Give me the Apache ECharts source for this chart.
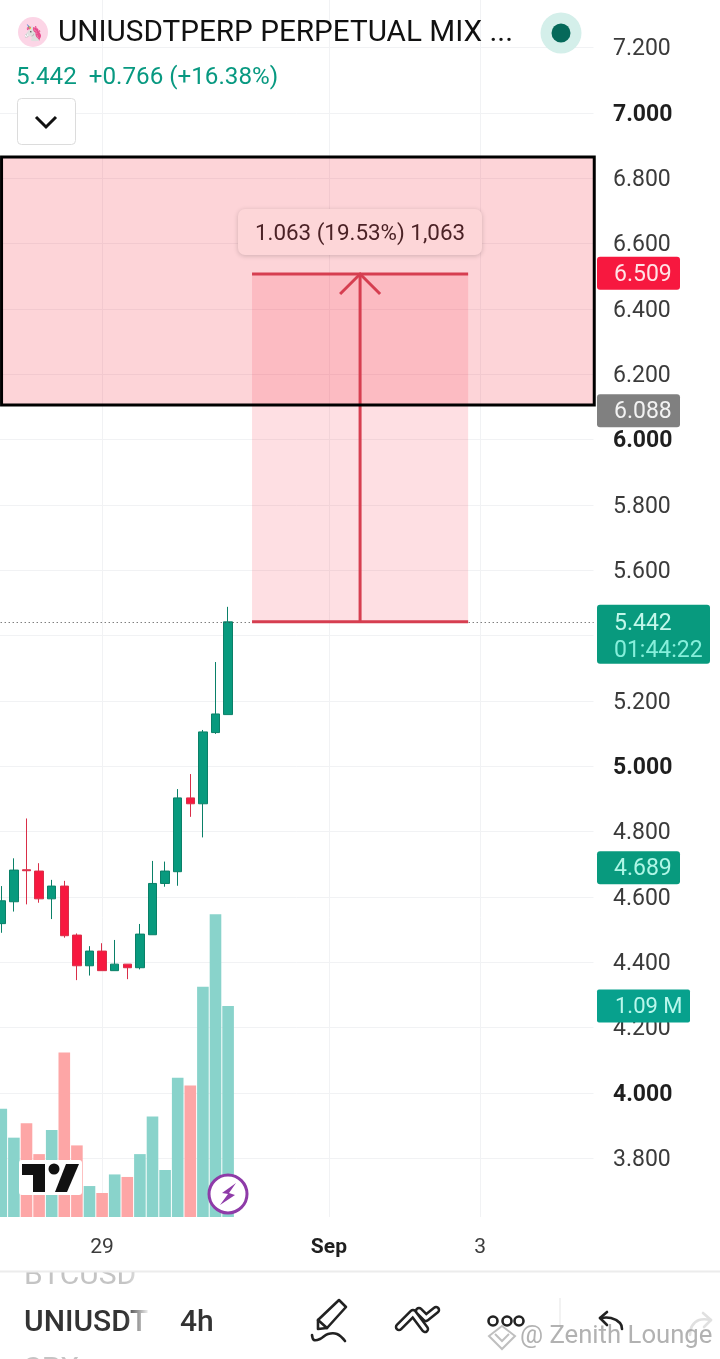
<!DOCTYPE html>
<html><head><meta charset="utf-8">
<style>html,body{margin:0;padding:0;background:#fff}#c{width:720px;height:1359px}</style>
<script src="https://cdn.jsdelivr.net/npm/echarts@6/dist/echarts.min.js"></script>
</head><body><div id="c"></div>
<script>
// ---------- data ----------
const xTicks = {9:'29', 27:'Sep', 39:'3'};
const slotCount = 49;
const firstBarSlot = 1;
const opens  = [4.518,4.585,4.683,4.679,4.594,4.633,4.483,4.389,4.434,4.374,4.394,4.383,4.484,4.641,4.677,4.903,4.885,5.103,5.158];
const closes = [4.588,4.682,4.680,4.594,4.633,4.481,4.389,4.434,4.374,4.394,4.383,4.486,4.641,4.679,4.903,4.885,5.105,5.160,5.442];
const highs  = [4.633,4.718,4.840,4.703,4.652,4.649,4.488,4.449,4.458,4.468,4.394,4.517,4.710,4.708,4.930,4.976,5.111,5.319,5.488];
const lows   = [4.490,4.555,4.577,4.582,4.532,4.475,4.345,4.359,4.374,4.374,4.348,4.378,4.484,4.631,4.634,4.845,4.782,5.099,5.158];
const volumes= [0.56,0.41,0.485,0.325,0.45,0.85,0.37,0.16,0.124,0.22,0.207,0.325,0.52,0.243,0.72,0.68,1.19,1.565,1.09];
const zoneTop = 6.865, zoneBottom = 6.106;
const zoneSlots = [1.02, 48.06];
const measureFrom = 5.442, measureTo = 6.507;
const measureSlots = [20.9, 38.05];
const measureText = '1.063 (19.53%) 1,063';
const lastPrice = 5.442, countdown = '01:44:22';
const priceTags = [[6.509,'6.509','#f7183f','#ffe3e6'],[6.088,'6.088','#808080','#f2f2f2'],[4.689,'4.689','#089a7e','#aef6e6']];
const volumeTag = [1.09,'1.09 M'];
const titleText = 'UNIUSDTPERP PERPETUAL MIX ...';
const quoteText = '5.442  +0.766 (+16.38%)';
const bottomSymbol = 'UNIUSDT', bottomInterval = '4h';
const ghostUp = 'BTCUSD', ghostDown = 'SPX';
const watermark = '@ Zenith Lounge';

// ---------- derived ----------
const categories = Array.from({length:slotCount},(_,i)=>xTicks[i]||'');
const pad = a => {const r=new Array(firstBarSlot).fill('-').concat(a);while(r.length<slotCount)r.push('-');return r;};
const candleData = pad(opens.map((o,i)=>({value:[o,closes[i],lows[i],highs[i]]})));
const UP='#089a7e',DOWN='#f7183f';
const volData = pad(volumes.map((v,i)=>({value:v,itemStyle:{color:closes[i]>=opens[i]?'#89d3cb':'#fda6a6'}})));
const FONT='Roboto';
const gridLine='#f1f2f4';
const gridLeft=-11.3, gridW=604.8;
const labelRich={b:{fontWeight:'bold',fontFamily:FONT,fontSize:23,color:'#1f1f1f',padding:[4,0,0,0]},n:{fontFamily:FONT,fontSize:23,color:'#3b3b3b',padding:[4,0,0,0]}};
const fmt=v=>{const s=(+v).toFixed(3);return Math.abs(v-Math.round(v))<1e-6?'{b|'+s+'}':'{n|'+s+'}';};
const ink={fill:'none',stroke:'#222',lineWidth:2.6,lineCap:'round',lineJoin:'round'};
const pale={fill:'none',stroke:'#e0e0e0',lineWidth:2.6,lineCap:'round',lineJoin:'round'};
const mark={fill:'none',stroke:'rgba(175,175,175,.8)',lineWidth:2};
const g=(o)=>Object.assign({silent:true},o);

const option={
 animation:false,backgroundColor:'#fff',
 grid:[
  {outerBoundsMode:'none',left:gridLeft,width:gridW,top:-17.64,height:1241.1},
  {outerBoundsMode:'none',left:gridLeft,width:gridW,top:830,height:387}
 ],
 xAxis:[
  {type:'category',gridIndex:0,data:categories,boundaryGap:false,axisLine:{show:false},axisTick:{show:false},axisLabel:{show:false},
   splitLine:{show:true,interval:(i)=>!!xTicks[i],lineStyle:{color:gridLine,width:1}}},
  {type:'category',gridIndex:1,data:categories,boundaryGap:false,axisLine:{show:false},axisTick:{show:false},z:5,
   axisLabel:{show:true,interval:(i)=>!!xTicks[i],margin:20,hideOverlap:false,
     formatter:v=>v==='Sep'?'{b|Sep}':'{n|'+v+'}',
     rich:{b:{fontWeight:'bold',fontFamily:FONT,fontSize:21,color:'#1f1f1f'},n:{fontFamily:FONT,fontSize:21,color:'#3b3b3b'}}},
   splitLine:{show:false}},
  {type:'value',gridIndex:0,min:0,max:slotCount-1,show:false}
 ],
 yAxis:[
  {type:'value',gridIndex:0,min:3.6,max:7.4,interval:0.2,position:'right',axisLine:{show:false},axisTick:{show:false},
   axisLabel:{show:true,showMinLabel:false,showMaxLabel:false,margin:19.5,align:'left',formatter:fmt,rich:labelRich},
   splitLine:{show:true,lineStyle:{color:gridLine,width:1}}},
  {type:'value',gridIndex:1,min:0,max:2,show:false}
 ],
 series:[
  {type:'bar',name:'volume',xAxisIndex:1,yAxisIndex:1,data:volData,barWidth:11.6,z:2,silent:true},
  {type:'candlestick',name:'price',xAxisIndex:0,yAxisIndex:0,data:candleData,barWidth:9,z:3,silent:true,
   itemStyle:{color:UP,color0:DOWN,borderColor:'#0a8068',borderColor0:'#d92e48',borderWidth:1},
   markLine:{silent:true,symbol:'none',label:{show:false},animation:false,
     lineStyle:{type:[1,3],color:'#444',width:1},data:[{yAxis:lastPrice}]}},
  {type:'custom',name:'zone',xAxisIndex:2,yAxisIndex:0,z:4,silent:true,clip:false,data:[[zoneSlots[0],zoneSlots[1],zoneTop,zoneBottom]],
   encode:{x:[0,1],y:[2,3]},
   renderItem:(p,api)=>{const a=api.coord([api.value(0),api.value(2)]),b=api.coord([api.value(1),api.value(3)]);
     return {type:'rect',shape:{x:a[0],y:a[1],width:b[0]-a[0],height:b[1]-a[1]},style:{fill:'rgba(245,54,69,0.21)'}};}},
  {type:'custom',name:'measure',xAxisIndex:2,yAxisIndex:0,z:5,silent:true,clip:false,data:[[measureSlots[0],measureSlots[1],measureTo,measureFrom]],
   encode:{x:[0,1],y:[2,3]},
   renderItem:(p,api)=>{const a=api.coord([api.value(0),api.value(2)]),b=api.coord([api.value(1),api.value(3)]);
     const mx=(a[0]+b[0])/2,c='#d63e50',ls={stroke:c,lineWidth:3,fill:'none'};
     return {type:'group',children:[
      {type:'rect',shape:{x:a[0],y:a[1],width:b[0]-a[0],height:b[1]-a[1]},style:{fill:'rgba(250,54,80,0.16)'}},
      {type:'line',shape:{x1:a[0],y1:a[1],x2:b[0],y2:a[1]},style:ls},
      {type:'line',shape:{x1:a[0],y1:b[1],x2:b[0],y2:b[1]},style:ls},
      {type:'line',shape:{x1:mx,y1:a[1],x2:mx,y2:b[1]},style:ls},
      {type:'polyline',shape:{points:[[mx-20,a[1]+20],[mx,a[1]],[mx+20,a[1]+20]]},style:ls}
     ]};}},
  {type:'custom',name:'zoneBorder',xAxisIndex:2,yAxisIndex:0,z:6,silent:true,clip:false,data:[[zoneSlots[0],zoneSlots[1],zoneTop,zoneBottom]],
   encode:{x:[0,1],y:[2,3]},
   renderItem:(p,api)=>{const a=api.coord([api.value(0),api.value(2)]),b=api.coord([api.value(1),api.value(3)]);
     return {type:'rect',shape:{x:a[0],y:a[1],width:b[0]-a[0],height:b[1]-a[1]},style:{fill:'none',stroke:'#000',lineWidth:3}};}},
  {type:'custom',name:'priceTags',xAxisIndex:2,yAxisIndex:0,z:20,silent:true,clip:false,data:priceTags.map(t=>[t[0]]),
   encode:{y:0},
   renderItem:(p,api)=>{const y=api.coord([0,api.value(0)])[1],t=priceTags[p.dataIndex];
     return {type:'group',children:[
      {type:'rect',shape:{x:597,y:y-16.5,width:83,height:33,r:3},style:{fill:t[2]}},
      {type:'text',style:{x:614,y:y+1.5,text:t[1],fill:t[3],font:'23px '+FONT,textAlign:'left',textVerticalAlign:'middle'}}
     ]};}},
  {type:'custom',name:'lastTag',xAxisIndex:2,yAxisIndex:0,z:20,silent:true,clip:false,data:[[lastPrice]],encode:{y:0},
   renderItem:(p,api)=>{const y=api.coord([0,api.value(0)])[1];
     return {type:'group',children:[
      {type:'rect',shape:{x:597,y:y-17,width:113,height:59,r:3},style:{fill:UP}},
      {type:'text',style:{x:614,y:y+2,text:lastPrice.toFixed(3),fill:'#c2f7ea',font:'23px '+FONT,textAlign:'left',textVerticalAlign:'middle'}},
      {type:'text',style:{x:614,y:y+29,text:countdown,fill:'#86efdb',font:'23px '+FONT,textAlign:'left',textVerticalAlign:'middle'}}
     ]};}},
  {type:'custom',name:'volumeTag',xAxisIndex:1,yAxisIndex:1,z:20,silent:true,clip:false,data:[[volumeTag[0]]],encode:{y:0},
   renderItem:(p,api)=>{const y=api.coord([0,api.value(0)])[1];
     return {type:'group',children:[
      {type:'rect',shape:{x:597,y:y-16.5,width:93,height:33,r:2},style:{fill:'#07a18d'}},
      {type:'text',style:{x:615,y:y+1.5,text:volumeTag[1],fill:'#b9f7ec',font:'22px '+FONT,textAlign:'left',textVerticalAlign:'middle'}}
     ]};}}
 ],
 graphic:[
  // strip under the plot
  g({type:'rect',z:1,shape:{x:0,y:1217,width:720,height:142},style:{fill:'#fff'}}),
  g({type:'text',z:2,style:{x:24,y:1276,text:ghostUp,font:'30px '+FONT,fill:'#c4c4c4',textVerticalAlign:'middle'}}),
  g({type:'rect',z:3,shape:{x:0,y:1217,width:720,height:55},style:{fill:'#fff'}}),
  g({type:'rect',z:30,shape:{x:0,y:1270.5,width:720,height:2},style:{fill:'#ececec'}}),
  // header
  g({type:'circle',z:30,shape:{cx:33,cy:32,r:15},style:{fill:'#fcd5e6'}}),
  g({type:'text',z:31,style:{x:33,y:34,text:'\u{1F984}',font:'16px "DejaVu Sans"',fill:'#e0218a',textAlign:'center',textVerticalAlign:'middle'}}),
  g({type:'text',z:30,style:{x:58,y:34,text:titleText,font:'29.7px '+FONT,fill:'#111',textVerticalAlign:'middle'}}),
  g({type:'text',z:30,style:{x:16,y:78,text:quoteText,font:'24.2px '+FONT,fill:'#089981',textVerticalAlign:'middle'}}),
  g({type:'circle',z:30,shape:{cx:561,cy:33,r:20.5},style:{fill:'#d4efea'}}),
  g({type:'circle',z:31,shape:{cx:561,cy:33,r:9.5},style:{fill:'#05695a'}}),
  g({type:'rect',z:30,shape:{x:17.5,y:98.5,width:58,height:46,r:4},style:{fill:'#fff',stroke:'#dcdcdc',lineWidth:1}}),
  g({type:'polyline',z:31,shape:{points:[[36,117],[46,127],[56,117]]},style:{stroke:'#111',lineWidth:3,fill:'none'}}),
  // measure label
  g({type:'rect',z:30,shape:{x:238,y:209,width:244,height:46,r:7},style:{fill:'#fdd6d8',shadowBlur:5,shadowColor:'rgba(0,0,0,.18)',shadowOffsetY:1}}),
  g({type:'text',z:31,style:{x:360,y:234,text:measureText,font:'22.4px '+FONT,fill:'#4b2226',textAlign:'center',textVerticalAlign:'middle'}}),
  // TV logo
  g({type:'rect',z:30,shape:{x:19,y:1160,width:63,height:35,r:3},style:{fill:'#fff'}}),
  g({type:'polygon',z:31,shape:{points:[[22,1164],[45,1164],[45,1192],[33,1192],[33,1175],[22,1175]]},style:{fill:'#111'}}),
  g({type:'circle',z:31,shape:{cx:54,cy:1169,r:5.5},style:{fill:'#111'}}),
  g({type:'polygon',z:31,shape:{points:[[66,1164],[79,1164],[67,1192],[55,1192]]},style:{fill:'#111'}}),
  // lightning badge
  g({type:'circle',z:30,shape:{cx:228,cy:1194,r:19},style:{fill:'#fff',stroke:'#8e3ba8',lineWidth:3}}),
  g({type:'polygon',z:31,shape:{points:[[236,1183],[222,1193],[228,1194],[220,1205],[235,1195],[229,1193]]},style:{fill:'#8e3ba8'}}),
  // bottom toolbar
  g({type:'text',z:30,style:{x:24,y:1370,text:ghostDown,font:'30px '+FONT,fill:'#c4c4c4',textVerticalAlign:'middle'}}),
  g({type:'text',z:30,style:{x:24,y:1323,text:bottomSymbol,font:'500 30px '+FONT,fill:'#333',textVerticalAlign:'middle'}}),
  g({type:'rect',z:31,shape:{x:126,y:1273,width:24,height:86},style:{fill:new echarts.graphic.LinearGradient(0,0,1,0,[{offset:0,color:'rgba(255,255,255,0)'},{offset:1,color:'#fff'}])}}),
  g({type:'text',z:32,style:{x:180,y:1323,text:bottomInterval,font:'500 30px '+FONT,fill:'#333',textVerticalAlign:'middle'}}),
  // pencil
  g({type:'polygon',z:31,shape:{points:[[318,1329],[318,1320],[339,1300],[346,1307],[327,1328]]},style:ink}),
  g({type:'line',z:31,shape:{x1:318,y1:1320,x2:327,y2:1328},style:ink}),
  g({type:'polyline',z:31,shape:{points:[[312,1335],[314,1340],[320,1339],[328,1334],[337,1334],[345,1341]],smooth:.4},style:ink}),
  // trend icon
  g({type:'polyline',z:31,shape:{points:[[399,1327],[413,1313],[425,1329]]},style:{fill:'none',stroke:'#222',lineWidth:8.5,lineCap:'round',lineJoin:'round'}}),
  g({type:'polyline',z:32,shape:{points:[[399,1327],[413,1313],[425,1329]]},style:{fill:'none',stroke:'#fff',lineWidth:3.5,lineCap:'round',lineJoin:'round'}}),
  g({type:'polyline',z:31,shape:{points:[[419,1311],[426,1318],[436,1310]]},style:{fill:'none',stroke:'#222',lineWidth:8.5,lineCap:'round',lineJoin:'round'}}),
  g({type:'polyline',z:32,shape:{points:[[419,1311],[426,1318],[436,1310]]},style:{fill:'none',stroke:'#fff',lineWidth:3.5,lineCap:'round',lineJoin:'round'}}),
  // dots
  g({type:'circle',z:31,shape:{cx:493,cy:1321,r:4.5},style:ink}),
  g({type:'circle',z:31,shape:{cx:507,cy:1321,r:4.5},style:ink}),
  g({type:'circle',z:31,shape:{cx:519,cy:1321,r:4.5},style:ink}),
  g({type:'rect',z:31,shape:{x:559.5,y:1298,width:1,height:28},style:{fill:'#e6e6e6'}}),
  // undo
  g({type:'polyline',z:31,shape:{points:[[607,1312],[600,1318],[607,1325]]},style:ink}),
  g({type:'polyline',z:31,shape:{points:[[600,1318],[611,1318],[620,1323],[622,1329]],smooth:.4},style:ink}),
  // redo
  g({type:'polyline',z:31,shape:{points:[[703,1313],[711,1320],[704,1327]]},style:pale}),
  g({type:'polyline',z:31,shape:{points:[[711,1320],[699,1320],[692,1326],[690,1335]],smooth:.4},style:pale}),
  // watermark
  g({type:'polygon',z:32,shape:{points:[[502,1326],[515,1336],[502,1349],[489,1336]]},style:mark}),
  g({type:'polyline',z:32,shape:{points:[[495,1334],[502,1341],[509,1334]]},style:mark}),
  g({type:'text',z:33,style:{x:520,y:1337,text:watermark,font:'25.7px '+FONT,fill:'rgba(165,165,165,.85)',textVerticalAlign:'middle'}})
 ]
};
const chart=echarts.init(document.getElementById('c'),null,{renderer:'canvas',width:720,height:1359});
chart.setOption(option);
</script></body></html>
